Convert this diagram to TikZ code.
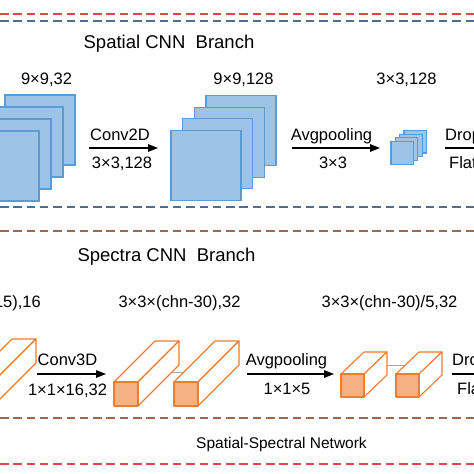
\documentclass[tikz,border=0pt]{standalone}
\usepackage{fontspec}
\setmainfont{Liberation Sans}
\usetikzlibrary{arrows.meta}
\definecolor{dred}{HTML}{E0474C}
\definecolor{dblue}{HTML}{4F6D8F}
\definecolor{dbrown}{HTML}{A0674B}
\definecolor{sqfill}{HTML}{9DC3E6}
\definecolor{sqline}{HTML}{5B9BD5}
\definecolor{orline}{HTML}{ED7D31}
\definecolor{orfill}{HTML}{F4B183}
\newcommand{\bluesquare}[3]{\filldraw[bluesq] (#1,#2) rectangle ++(#3,#3);}
\newcommand{\mycuboid}[5]{%
  \filldraw[cubline, fill=white] (#1,#2) -- ++(#3,0) -- ++(#4,-#5) -- ++(-#3,0) -- cycle;
  \filldraw[cubline, fill=white] (#1+#3,#2) -- ++(0,#3) -- ++(#4,-#5) -- ++(0,-#3) -- cycle;
  \filldraw[cubline, fill=orfill] (#1,#2) rectangle ++(#3,#3);}
\begin{document}
\begin{tikzpicture}[x=1pt,y=-1pt,
  bluesq/.style={fill=sqfill, draw=sqline, line width=1.1pt},
  cubline/.style={draw=orline, line width=1.1pt, line join=round},
  lbl/.style={font=\fontsize{16.5}{18}\selectfont, inner sep=0pt, anchor=base},
  ttl/.style={font=\fontsize{18.5}{20}\selectfont, inner sep=0pt, anchor=base},
  arr/.style={-{Triangle[length=10pt,width=7.5pt]}, line width=1.4pt},
  plainline/.style={line width=1.4pt},
  sepline/.style={dash pattern=on 8.5pt off 4.8pt, line width=1.6pt},
  link/.style={draw=gray!70, line width=0.8pt}]
\useasboundingbox (0,0) rectangle (474,474);
\clip (0,0) rectangle (474,474);
\fill[white] (0,0) rectangle (474,474);

% separators
\draw[sepline, dred]   (0,14)  -- (474,14);
\draw[sepline, dblue]  (0,21)  -- (474,21);
\draw[sepline, dblue]  (0,207) -- (474,207);
\draw[sepline, dbrown] (0,231) -- (474,231);
\draw[sepline, dbrown] (0,418) -- (474,418);
\draw[sepline, dred]   (0,464) -- (474,464);

% ---------- Spatial branch ----------
\node[ttl] (t1) at (169,48) {Spatial CNN\ \ Branch};

\bluesquare{5}{95}{70}
\bluesquare{-7}{107}{70}
\bluesquare{-19}{119}{70}
\bluesquare{-31}{131}{70}
\node[lbl] (l1) at (46.5,84) {9×9,32};

\coordinate (a1s) at (89,148);
\coordinate (a1e) at (158,148);
\draw[arr] (a1s) -- (a1e);
\node[lbl] (c2d) at (120,140.5) {Conv2D};
\node[lbl] (c2p) at (122,168) {3×3,128};

\bluesquare{206}{95.5}{70}
\bluesquare{194.3}{107.2}{70}
\bluesquare{182.7}{118.8}{70}
\bluesquare{171}{130.5}{70}
\node[lbl] (l2) at (243.5,84) {9×9,128};

\coordinate (a2s) at (292,148);
\coordinate (a2e) at (380,148);
\draw[arr] (a2s) -- (a2e);
\node[lbl] (ap1) at (331.5,140) {Avgpooling};
\node[lbl] (ap1p) at (333,168) {3×3};

\bluesquare{404}{130.5}{22.5}
\bluesquare{399.7}{134.2}{22.5}
\bluesquare{395.3}{137.9}{22.5}
\bluesquare{391}{141.6}{22.5}
\node[lbl] (l3) at (406.5,84) {3×3,128};

\coordinate (d1s) at (445,148);
\coordinate (d1e) at (480,148);
\draw[plainline] (d1s) -- (d1e);
\node[lbl, anchor=base west] (dr1) at (445,140) {Dropout};
\node[lbl, anchor=base west] (fl1) at (449,168) {Flatten};

% ---------- Spectral branch ----------
\node[ttl] (t2) at (166.5,261) {Spectra CNN\ \ Branch};

\node[lbl, anchor=base east] (l4) at (41,307) {3×3×(chn-15),16};
\node[lbl] (l5) at (179.5,307) {3×3×(chn-30),32};
\node[lbl] (l6) at (389.5,307) {3×3×(chn-30)/5,32};

% links between cuboids (behind)
\coordinate (k1s) at (160,372);
\coordinate (k1e) at (195,372);
\draw[link] (k1s) -- (k1e);
\coordinate (k2s) at (380,365);
\coordinate (k2e) at (405,365);
\draw[link] (k2s) -- (k2e);

\mycuboid{-29}{380}{24}{41}{41}
\mycuboid{114}{382}{24}{41}{41}
\mycuboid{174}{382}{24}{41}{41}
\mycuboid{341}{374}{23}{23}{22}
\mycuboid{396}{374}{23}{23}{22}

\coordinate (a3s) at (37,374);
\coordinate (a3e) at (106,374);
\draw[arr] (a3s) -- (a3e);
\node[lbl] (c3d) at (67.5,365) {Conv3D};
\node[lbl] (c3p) at (67.5,395) {1×1×16,32};

\coordinate (a4s) at (247,374);
\coordinate (a4e) at (334,374);
\draw[arr] (a4s) -- (a4e);
\node[lbl] (ap2) at (286.5,365) {Avgpooling};
\node[lbl] (ap2p) at (287,394) {1×1×5};

\coordinate (d2s) at (452,374);
\coordinate (d2e) at (480,374);
\draw[plainline] (d2s) -- (d2e);
\node[lbl, anchor=base west] (dr2) at (452,365) {Dropout};
\node[lbl, anchor=base west] (fl2) at (457,394) {Flatten};

\node[lbl, font=\fontsize{15.5}{17}\selectfont] (net) at (281.5,448) {Spatial-Spectral Network};
\end{tikzpicture}
\end{document}
